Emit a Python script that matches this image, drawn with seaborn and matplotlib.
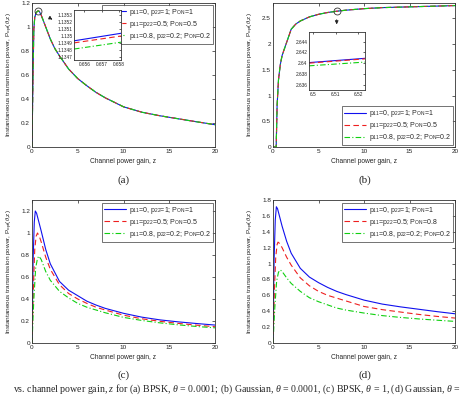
import numpy as np
import pandas as pd
import matplotlib
matplotlib.use('Agg')
import matplotlib.pyplot as plt
import seaborn as sns
from matplotlib.ticker import FuncFormatter

# values
z_a = [0, 0.1, 0.2, 0.3, 0.45, 0.66, 0.8, 1, 1.25, 1.5, 2, 2.5, 3, 4, 5, 6, 7, 8, 10, 12, 14, 16, 18, 20]
p_a = [0, 0.55, 0.98, 1.08, 1.12, 1.135, 1.13, 1.1, 1.05, 1.0, 0.9, 0.82, 0.76, 0.65, 0.57, 0.51, 0.455, 0.41,
       0.335, 0.29, 0.26, 0.235, 0.21, 0.186]
zin_a = [0.6554, 0.6581]
pin_a_blue = [1.13493, 1.13504]
pin_a_red = [1.13490, 1.13500]
pin_a_green = [1.13481, 1.13491]

z_b = [0, 0.35, 0.45, 0.6, 0.8, 1, 2, 2.5, 3, 4, 5, 6, 7, 8, 10, 12, 14, 16, 18, 20]
p_b = [0, 0, 0.8, 1.3, 1.6, 1.78, 2.29, 2.39, 2.45, 2.53, 2.58, 2.615, 2.64, 2.66, 2.69, 2.71, 2.72, 2.73, 2.74, 2.75]
zin_b = [6.498, 6.523]
pin_b_blue = [2.6401, 2.6409]
pin_b_red = [2.6400, 2.6408]
pin_b_green = [2.6395, 2.6402]

z_c_blue = [0, 0.12, 0.25, 0.36, 0.5, 0.75, 1, 1.5, 2, 3, 4, 5, 6, 7, 8, 10, 12, 14, 16, 18, 20]
p_c_blue = [0, 0.75, 1.1, 1.2, 1.18, 1.1, 1.02, 0.85, 0.72, 0.56, 0.48, 0.43, 0.38, 0.345, 0.315, 0.27, 0.235,
            0.21, 0.192, 0.177, 0.163]
z_c_red = [0, 0.15, 0.3, 0.45, 0.6, 0.8, 1, 1.5, 2, 3, 4, 5, 6, 7, 8, 10, 12, 14, 16, 18, 20]
p_c_red = [0, 0.5, 0.85, 0.97, 1.0, 0.97, 0.92, 0.78, 0.67, 0.53, 0.45, 0.4, 0.36, 0.325, 0.3, 0.253, 0.22,
           0.197, 0.178, 0.162, 0.148]
z_c_green = [0, 0.2, 0.4, 0.6, 0.75, 1, 1.5, 2, 3, 4, 5, 6, 7, 8, 10, 12, 14, 16, 18, 20]
p_c_green = [0, 0.4, 0.68, 0.77, 0.79, 0.76, 0.65, 0.57, 0.47, 0.41, 0.36, 0.325, 0.3, 0.275, 0.233, 0.205,
             0.183, 0.165, 0.15, 0.138]

z_d_blue = [0, 0.12, 0.25, 0.37, 0.5, 0.75, 1, 1.5, 2, 3, 4, 5, 6, 7, 8, 10, 12, 14, 16, 18, 20]
p_d_blue = [0, 1.05, 1.55, 1.715, 1.69, 1.58, 1.47, 1.28, 1.13, 0.94, 0.83, 0.76, 0.7, 0.65, 0.61, 0.54, 0.49,
            0.455, 0.425, 0.395, 0.368]
z_d_red = [0, 0.15, 0.3, 0.45, 0.55, 0.75, 1, 1.5, 2, 3, 4, 5, 6, 7, 8, 10, 12, 14, 16, 18, 20]
p_d_red = [0, 0.65, 1.08, 1.24, 1.27, 1.25, 1.2, 1.08, 0.98, 0.82, 0.72, 0.65, 0.6, 0.565, 0.53, 0.46, 0.42,
           0.39, 0.36, 0.335, 0.314]
z_d_green = [0, 0.2, 0.4, 0.6, 0.8, 1, 1.5, 2, 3, 4, 5, 6, 7, 8, 10, 12, 14, 16, 18, 20]
p_d_green = [0, 0.45, 0.78, 0.89, 0.92, 0.9, 0.82, 0.75, 0.65, 0.57, 0.52, 0.48, 0.44, 0.415, 0.377, 0.345,
             0.322, 0.303, 0.287, 0.272]

labels_abc = [r'p$_{11}$=0, p$_{22}$=1; P$_{\mathrm{ON}}$=1',
              r'p$_{11}$=p$_{22}$=0.5; P$_{\mathrm{ON}}$=0.5',
              r'p$_{11}$=0.8, p$_{22}$=0.2; P$_{\mathrm{ON}}$=0.2']
labels_d = [r'p$_{11}$=0, p$_{22}$=1; P$_{\mathrm{ON}}$=1',
            r'p$_{11}$=p$_{22}$=0.5; P$_{\mathrm{ON}}$=0.8',
            r'p$_{11}$=0.8, p$_{22}$=0.2; P$_{\mathrm{ON}}$=0.2']

colors = ['#1010ee', '#ee2020', '#10d010']
styles = ['-', (0, (5, 3)), (0, (5, 2, 1, 2))]

sns.set_style('white')
plt.rcParams['font.family'] = ['Liberation Sans', 'DejaVu Sans']
plt.rcParams['mathtext.fontset'] = 'custom'
plt.rcParams['mathtext.rm'] = 'Liberation Sans'
plt.rcParams['mathtext.it'] = 'Liberation Serif:italic'

fig = plt.figure(figsize=(4.74, 3.95), dpi=100)
W, H = 474.0, 395.0


def px_axes(l, t, r, b):
    return fig.add_axes([l / W, 1 - b / H, (r - l) / W, (b - t) / H])


def style_axes(ax, fs=4.6):
    ax.tick_params(direction='in', top=True, right=True, length=2.2, width=0.5, labelsize=fs, pad=1.5,
                   colors='#222222')
    for s in ax.spines.values():
        s.set_visible(True)
        s.set_color('#333333')
        s.set_linewidth(0.6)
    ax.xaxis.set_major_formatter(FuncFormatter(lambda v, p: '%g' % round(v, 6)))
    ax.yaxis.set_major_formatter(FuncFormatter(lambda v, p: '%g' % round(v, 6)))


def draw(ax, series, labels, ylim, yticks, leg_anchor, leg_loc):
    for (z, p), lab, c, ls in zip(series, labels, colors, styles):
        df = pd.DataFrame({'z': z, 'p': p})
        sns.lineplot(data=df, x='z', y='p', ax=ax, color=c, linestyle=ls, linewidth=0.8, label=lab)
    ax.set_xlim(0, 20)
    ax.set_ylim(*ylim)
    ax.set_xticks([0, 5, 10, 15, 20])
    ax.set_yticks(yticks)
    style_axes(ax)
    ax.set_xlabel('Channel power gain, z', fontsize=4.8, labelpad=1.5)
    ax.set_ylabel(r'Instantaneous transmission power, P$_{\mathrm{opt}}$($\theta$,z)', fontsize=4.6, labelpad=2)
    ax.yaxis.set_label_coords(-0.095, 0.5)
    ax.xaxis.set_label_coords(0.5, -0.075)
    leg = ax.legend(loc=leg_loc, bbox_to_anchor=leg_anchor, bbox_transform=fig.transFigure, fontsize=5.0,
                    frameon=True, fancybox=False, edgecolor='#333333', borderpad=0.25, labelspacing=0.15,
                    handlelength=3.2, handletextpad=0.4, borderaxespad=0)
    leg.get_frame().set_linewidth(0.6)


def draw_inset(ax, z, pins, xlim, ylim, xticks, yticks):
    for p, c, ls in zip(pins, colors, styles):
        sns.lineplot(x=z, y=p, ax=ax, color=c, linestyle=ls, linewidth=0.8, legend=False)
    ax.set_xlim(*xlim)
    ax.set_ylim(*ylim)
    ax.set_xticks(xticks)
    ax.set_yticks(yticks)
    style_axes(ax, fs=3.4)
    ax.tick_params(length=1.5, pad=1.2)
    ax.set_xlabel('')
    ax.set_ylabel('')


# (a)
ax_a = px_axes(32, 3, 215, 147)
draw(ax_a, [(z_a, p_a)] * 3, labels_abc, (0, 1.2), [0, 0.2, 0.4, 0.6, 0.8, 1, 1.2], (213 / W, 1 - 5 / H),
     'upper right')
ax_a.plot([0.7], [1.13], marker='o', ms=5, mfc='none', mec='#333333', mew=0.6)
ax_a.annotate('', xy=(2.5, 1.05), xytext=(1.6, 1.09),
              arrowprops=dict(arrowstyle='-|>', color='#222222', lw=0.6, ls=(0, (2, 1)), mutation_scale=5))
ins_a = px_axes(74, 10, 121, 60)
draw_inset(ins_a, zin_a, [pin_a_blue, pin_a_red, pin_a_green], (0.6554, 0.6581), (1.13465, 1.13538),
           [0.656, 0.657, 0.658], [1.1347, 1.1348, 1.1349, 1.135, 1.1351, 1.1352, 1.1353])

# (b)
ax_b = px_axes(273, 3, 455, 147)
draw(ax_b, [(z_b, p_b)] * 3, labels_abc, (0, 2.8), [0, 0.5, 1, 1.5, 2, 2.5], (453 / W, 1 - 145 / H),
     'lower right')
ax_b.plot([7.0], [2.64], marker='o', ms=5, mfc='none', mec='#333333', mew=0.6)
ax_b.annotate('', xy=(7.0, 2.33), xytext=(7.0, 2.53),
              arrowprops=dict(arrowstyle='-|>', color='#222222', lw=0.6, mutation_scale=5))
ins_b = px_axes(309, 32, 365, 90)
draw_inset(ins_b, zin_b, [pin_b_blue, pin_b_red, pin_b_green], (6.498, 6.523), (2.635, 2.6458),
           [6.5, 6.51, 6.52], [2.636, 2.638, 2.64, 2.642, 2.644])

# (c)
ax_c = px_axes(32, 200, 215, 343)
draw(ax_c, [(z_c_blue, p_c_blue), (z_c_red, p_c_red), (z_c_green, p_c_green)], labels_abc, (0, 1.3),
     [0, 0.2, 0.4, 0.6, 0.8, 1, 1.2], (213 / W, 1 - 203 / H), 'upper right')

# (d)
ax_d = px_axes(273, 200, 455, 343)
draw(ax_d, [(z_d_blue, p_d_blue), (z_d_red, p_d_red), (z_d_green, p_d_green)], labels_d, (0, 1.8),
     [0, 0.2, 0.4, 0.6, 0.8, 1, 1.2, 1.4, 1.6, 1.8], (453 / W, 1 - 203 / H), 'upper right')

for txt, x, y in [('(a)', 124, 180), ('(b)', 365, 180), ('(c)', 124, 375), ('(d)', 365, 375)]:
    fig.text(x / W, 1 - y / H, txt, ha='center', va='center', fontsize=8, family='Liberation Serif')

fig.text(0.5, 1 - 389 / H,
         r'vs. channel power gain, $z$ for (a) BPSK, $\theta$ = 0.0001; (b) Gaussian, $\theta$ = 0.0001, '
         r'(c) BPSK, $\theta$ = 1, (d) Gaussian, $\theta$ =',
         ha='center', va='center', fontsize=7.1, family='Liberation Serif')

fig.savefig('out.png', dpi=100)
